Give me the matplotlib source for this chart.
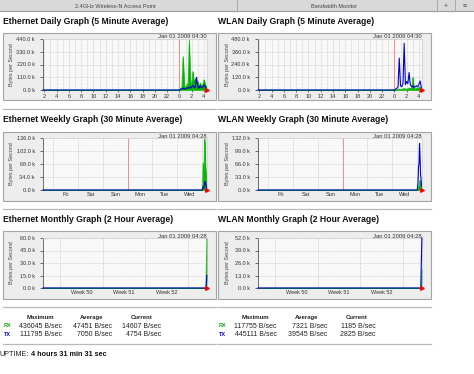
import matplotlib
matplotlib.use("Agg")
import matplotlib.pyplot as plt
from matplotlib.patches import Rectangle
from matplotlib.lines import Line2D

plt.rcParams["font.family"] = ["Liberation Sans", "DejaVu Sans"]

W, H = 474, 374

# daily graphs: hours since 00:00 of the previous day, values in k bytes/sec
day_hours = [1.8, 24.0, 24.2, 24.4, 24.6, 24.8, 25.0, 25.2, 25.4, 25.6, 25.8, 26.0,
             26.2, 26.4, 26.6, 26.8, 27.0, 27.2, 27.4, 27.6, 27.8, 28.0, 28.2, 28.4]
eth_day_rx = [0, 0, 12, 25, 290, 35, 20, 45, 60, 430, 40, 70,
              160, 55, 100, 35, 75, 25, 60, 30, 45, 90, 55, 20]
eth_day_tx = [0, 0, 5, 10, 15, 10, 8, 20, 15, 25, 15, 30,
              40, 20, 25, 110, 30, 15, 40, 20, 25, 45, 30, 10]
wlan_day_rx = [0, 0, 3, 5, 8, 10, 6, 8, 10, 15, 8, 12,
               10, 20, 15, 10, 120, 15, 10, 20, 15, 25, 30, 10]
wlan_day_tx = [0, 0, 8, 15, 30, 300, 40, 30, 60, 440, 50, 80,
               60, 165, 50, 30, 40, 25, 30, 40, 30, 55, 85, 20]
day_ticks = [2, 4, 6, 8, 10, 12, 14, 16, 18, 20, 22, 24, 26, 28]
day_labels = ["2", "4", "6", "8", "10", "12", "14", "16", "18", "20", "22", "0", "2", "4"]

# weekly graphs: days since Friday 00:00
week_days = [-0.42, 6.0, 6.02, 6.04, 6.06, 6.08, 6.1, 6.12, 6.14, 6.16, 6.18]
eth_week_rx = [0, 0, 15, 70, 45, 75, 136, 120, 60, 40, 10]
eth_week_tx = [0, 0, 3, 8, 5, 10, 15, 22, 18, 12, 5]
wlan_week_rx = [0, 0, 2, 5, 10, 12, 22, 25, 15, 10, 5]
wlan_week_tx = [0, 0, 5, 20, 60, 65, 118, 90, 40, 30, 10]
week_labels = ["Fri", "Sat", "Sun", "Mon", "Tue", "Wed"]

# monthly graphs: days since start of week 50
month_days = [-2.8, 24.0, 24.1, 24.18]
eth_month_rx = [0, 0, 40, 60]
eth_month_tx = [0, 0, 5, 15]
wlan_month_rx = [0, 0, 8, 20]
wlan_month_tx = [0, 0, 30, 52]
month_labels = ["Week 50", "Week 51", "Week 52"]

# summary table (B/sec): maximum, average, current
eth_rx_stats = [436045, 47451, 14607]
eth_tx_stats = [111795, 7050, 4754]
wlan_rx_stats = [117755, 7321, 1185]
wlan_tx_stats = [445111, 39545, 2825]

GREEN = "#00b400"
BLUE = "#0000d0"


def rect(x0, y0, x1, y1):
    return [x0 / W, 1 - y1 / H, (x1 - x0) / W, (y1 - y0) / H]


def ftext(fig, x, y, s, **kw):
    kw.setdefault("va", "center_baseline")
    return fig.text(x / W, 1 - y / H, s, **kw)


def hline(fig, x0, x1, y, color="#b8b8b8", lw=0.9):
    fig.add_artist(Line2D([x0 / W, x1 / W], [1 - y / H, 1 - y / H],
                          transform=fig.transFigure, color=color, lw=lw, zorder=-1))


def draw_graph(fig, dx, top, title, t, rx, tx, xlim, ymax, kind, stamp):
    box_y0, plot_y0, plot_y1, box_y1 = top
    ftext(fig, 3 + dx, box_y0 - 13, title, fontsize=6.2, fontweight="bold", color="#111111")
    fig.add_artist(Rectangle(((3 + dx) / W, 1 - box_y1 / H), 213 / W, (box_y1 - box_y0) / H,
                             transform=fig.transFigure, facecolor="#ededed",
                             edgecolor="#a4a4a4", lw=0.8, zorder=-2))
    ax = fig.add_axes(rect(43 + dx, plot_y0, 207 + dx, plot_y1))
    ax.set_facecolor("#f8f8f8")
    ax.set_xlim(*xlim)
    ax.set_ylim(0, ymax)

    if kind == "day":
        grid = range(2, 29)
        ax.set_xticks(day_ticks)
        ax.set_xticklabels(day_labels)
        red = 24
        ax.tick_params(axis="x", length=1.5)
    elif kind == "week":
        grid = range(0, 7)
        ax.set_xticks([d + 0.5 for d in range(len(week_labels))])
        ax.set_xticklabels(week_labels)
        red = 3
        ax.tick_params(axis="x", length=0)
    else:
        grid = [0, 7, 14, 21]
        ax.set_xticks([g + 3.5 for g in grid[:3]])
        ax.set_xticklabels(month_labels)
        red = None
        ax.tick_params(axis="x", length=0)
    for g in grid:
        ax.axvline(g, color="#c4c4c4", lw=0.5, ls=(0, (1, 1)), zorder=0)

    step = ymax / 4
    yt = [i * step for i in range(5)]
    ax.set_yticks(yt)
    ax.set_yticklabels([f"{v:.1f} k" for v in yt])
    for v in yt[1:]:
        ax.axhline(v, color="#c4c4c4", lw=0.5, ls=(0, (1, 1)), zorder=0)
    if red is not None:
        ax.axvline(red, color="#ff7a7a", lw=0.6, zorder=1)

    ax.fill_between(t, rx, color=GREEN, lw=0.4, zorder=2)
    ax.plot(t, rx, color=GREEN, lw=0.4, zorder=2)
    ax.plot(t, tx, color=BLUE, lw=0.8, zorder=3, clip_on=False)
    ax.plot([xlim[1]], [0], marker=">", color="red", ms=2.6, clip_on=False, zorder=4)

    ax.tick_params(axis="both", labelsize=4, colors="#333333", width=0.5, pad=1.5)
    ax.tick_params(axis="y", length=2, pad=4)
    for side in ("top", "right"):
        ax.spines[side].set_color("#d0d0d0")
        ax.spines[side].set_linewidth(0.5)
    ax.spines["left"].set_color("#555555")
    ax.spines["left"].set_linewidth(0.6)
    ax.spines["bottom"].set_visible(False)

    ax.text(1.0, 1.0 + 2 / (plot_y1 - plot_y0), stamp, transform=ax.transAxes,
            ha="right", va="center", fontsize=4.2, color="#333333")
    ftext(fig, 12 + dx, (plot_y0 + plot_y1) / 2, "Bytes per Second", rotation=90,
          ha="center", va="center", fontsize=3.9, color="#444444")
    return ax


def stats_block(fig, dx, rx_vals, tx_vals):
    heads = ["Maximum", "Average", "Current"]
    centers = [40, 92, 142]
    rights = [62, 112, 161]
    for h, c in zip(heads, centers):
        ftext(fig, c + dx, 317, h, ha="center", fontsize=4.3, fontweight="bold", color="#222222")
    ftext(fig, 4 + dx, 325, "RX", fontsize=4, fontweight="bold", color="#22aa22")
    ftext(fig, 4 + dx, 334, "TX", fontsize=4, fontweight="bold", color="#0000cc")
    for v, r in zip(rx_vals, rights):
        ftext(fig, r + dx, 325, f"{v} B/sec", ha="right", fontsize=5, color="#222222")
    for v, r in zip(tx_vals, rights):
        ftext(fig, r + dx, 334, f"{v} B/sec", ha="right", fontsize=5, color="#222222")


fig = plt.figure(figsize=(W / 100, H / 100), dpi=100)
fig.patch.set_facecolor("white")

# window header
fig.add_artist(Rectangle((0, 1 - 11 / H), 1, 11 / H, transform=fig.transFigure,
                         facecolor="#d9d9d9", edgecolor="none", zorder=-2))
hline(fig, 0, W, 11, color="#9c9c9c", lw=0.8)
for xs in (237, 437, 455):
    fig.add_artist(Line2D([xs / W, xs / W], [1 - 11 / H, 1], transform=fig.transFigure,
                          color="#a8a8a8", lw=0.7, zorder=-1))
ftext(fig, 115, 5.5, "2.4GHz Wireless-N Access Point", ha="center", fontsize=4, color="#444444")
ftext(fig, 334, 5.5, "Bandwidth Monitor", ha="center", fontsize=4, color="#444444")
ftext(fig, 446, 5.5, "+", ha="center", fontsize=5, color="#555555")
ftext(fig, 465, 5.5, "\u2261", ha="center", fontsize=5, color="#555555")

rows = [(33, 39, 90, 100), (132, 138, 190, 201), (231, 238, 288, 299)]
stamp30 = "Jan 01 2009 04:30"
stamp28 = "Jan 01 2009 04:28"

draw_graph(fig, 0, rows[0], "Ethernet Daily Graph (5 Minute Average)",
           day_hours, eth_day_rx, eth_day_tx, (1.8, 28.5), 440, "day", stamp30)
draw_graph(fig, 215, rows[0], "WLAN Daily Graph (5 Minute Average)",
           day_hours, wlan_day_rx, wlan_day_tx, (1.8, 28.5), 480, "day", stamp30)
draw_graph(fig, 0, rows[1], "Ethernet Weekly Graph (30 Minute Average)",
           week_days, eth_week_rx, eth_week_tx, (-0.42, 6.2), 136, "week", stamp28)
draw_graph(fig, 215, rows[1], "WLAN Weekly Graph (30 Minute Average)",
           week_days, wlan_week_rx, wlan_week_tx, (-0.42, 6.2), 132, "week", stamp28)
draw_graph(fig, 0, rows[2], "Ethernet Monthly Graph (2 Hour Average)",
           month_days, eth_month_rx, eth_month_tx, (-2.8, 24.2), 60, "month", stamp28)
draw_graph(fig, 215, rows[2], "WLAN Monthly Graph (2 Hour Average)",
           month_days, wlan_month_rx, wlan_month_tx, (-2.8, 24.2), 52, "month", stamp28)

for y in (109, 209, 307, 344):
    hline(fig, 3, 216, y)
    hline(fig, 218, 431, y)

stats_block(fig, 0, eth_rx_stats, eth_tx_stats)
stats_block(fig, 215, wlan_rx_stats, wlan_tx_stats)

ftext(fig, -1, 353, "UPTIME:", fontsize=5.2, color="#222222")
ftext(fig, 31, 353, "4 hours 31 min 31 sec", fontsize=5.2, fontweight="bold", color="#111111")

fig.savefig("out.png", dpi=100)
